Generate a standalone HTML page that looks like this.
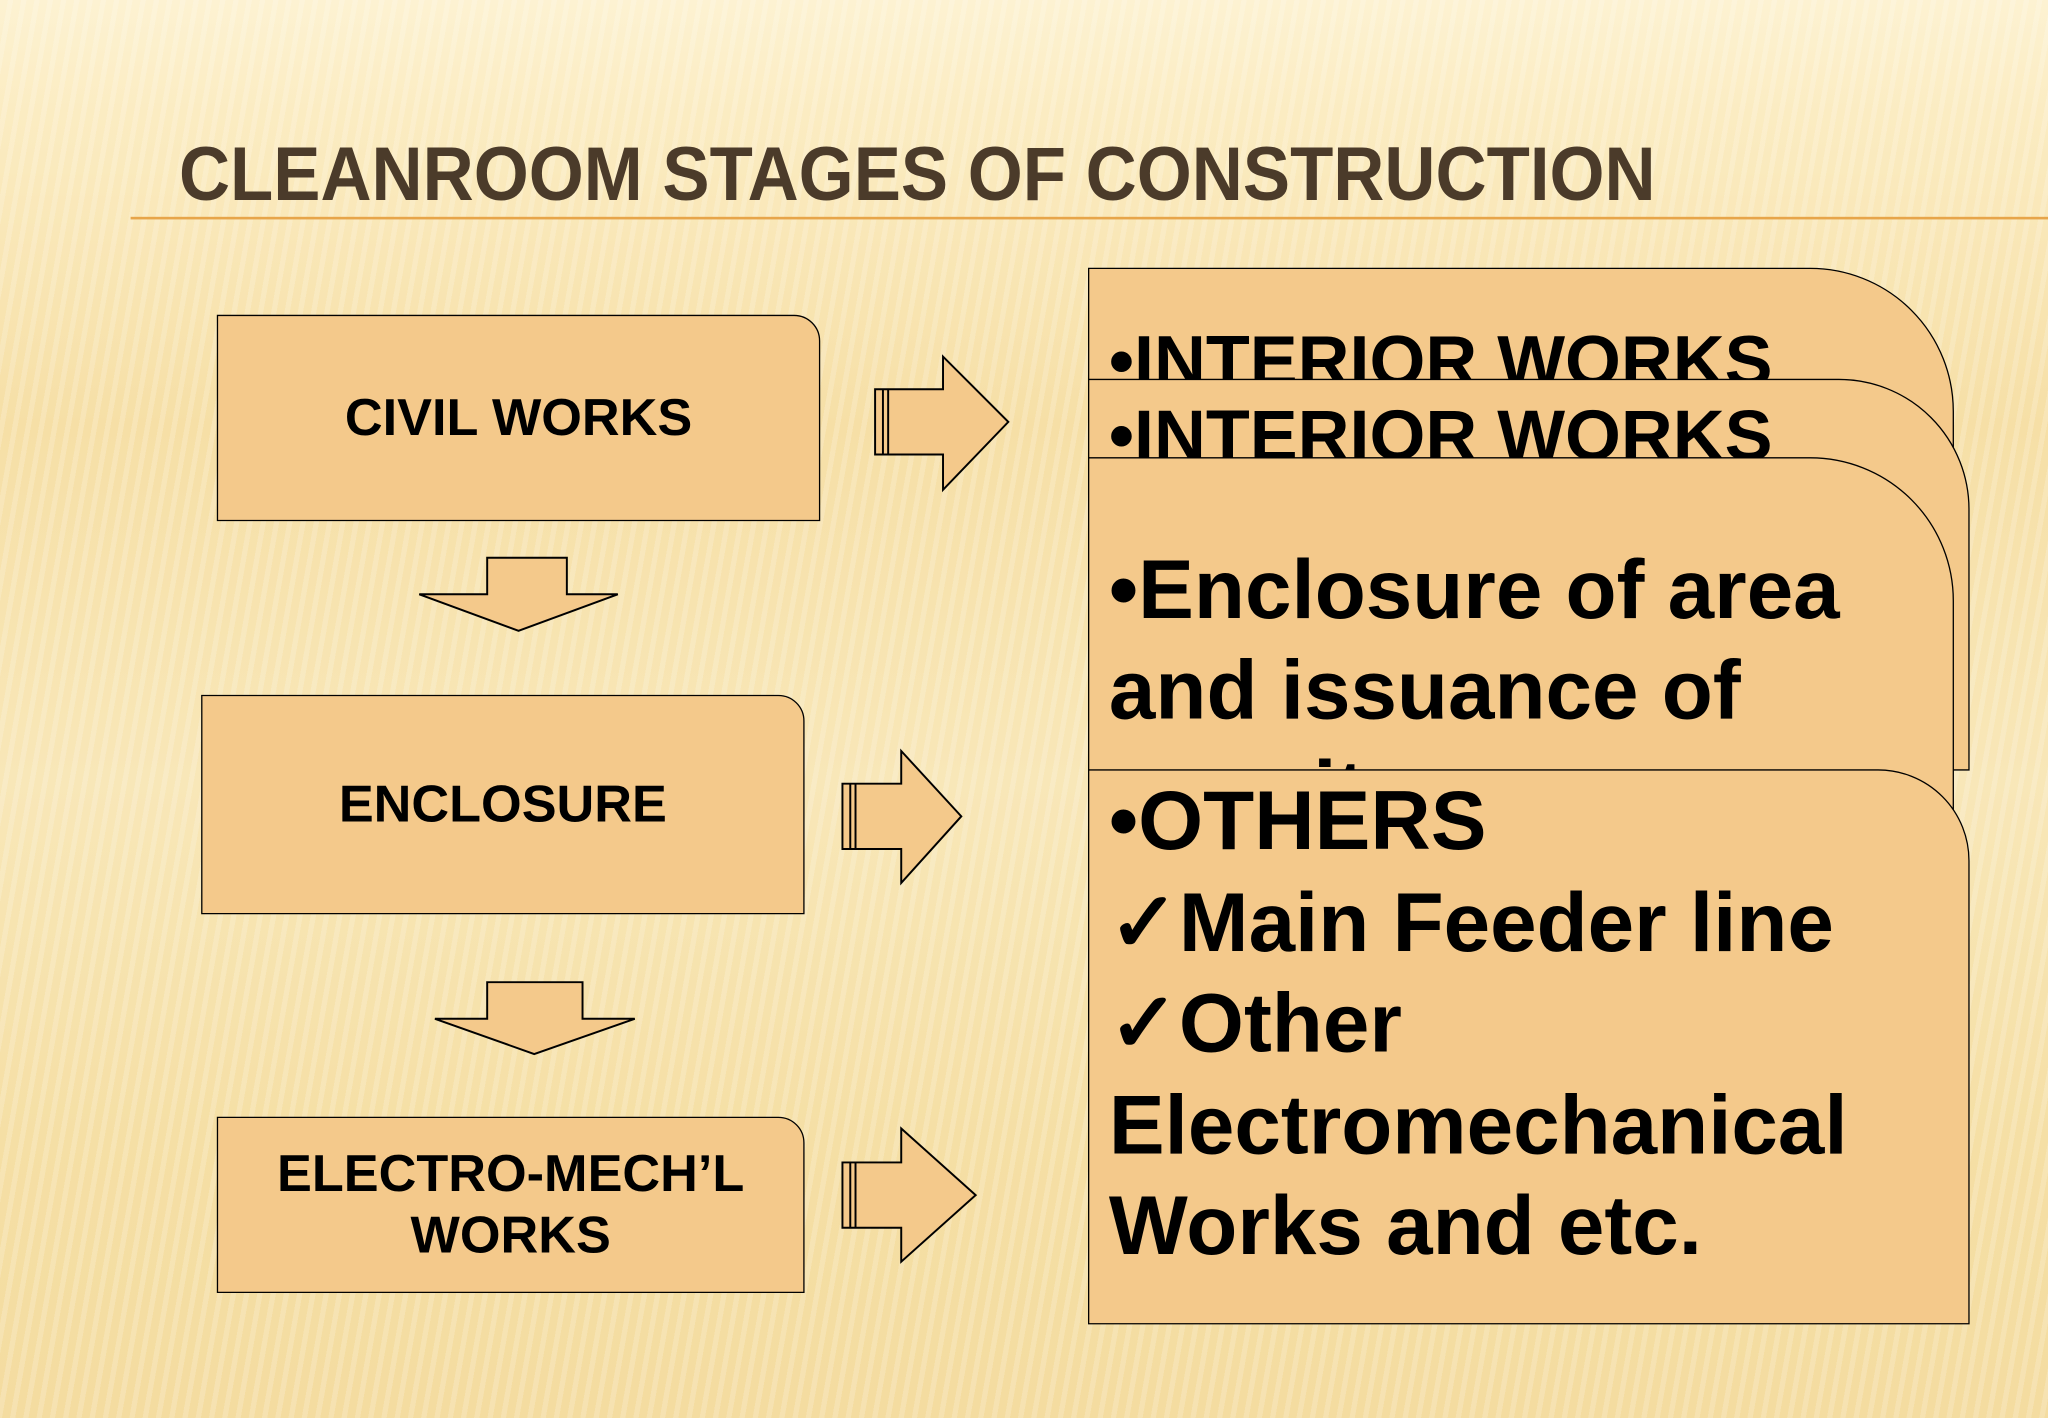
<!DOCTYPE html>
<html><head><meta charset="utf-8"><style>
html,body{margin:0;padding:0;width:2048px;height:1418px;overflow:hidden;}
#s{position:absolute;left:0;top:0;width:1568px;height:1086px;transform:scale(1.30612);transform-origin:0 0;
background:
repeating-linear-gradient(100deg,rgba(255,255,255,0) 0 6px,rgba(255,255,255,0.18) 6px 10px),
linear-gradient(180deg,#fdf2d2 0%,#fbecc2 8%,#f6dfa6 30%,#f8e7b8 55%,#f5dfa5 80%,#f4dca0 100%);
font-family:"Liberation Sans",sans-serif;}
.t{position:absolute;left:137px;top:100px;font-size:58px;color:#4b3b2a;transform:scaleX(0.934);transform-origin:0 0;white-space:nowrap;font-weight:bold;}
.ln{position:absolute;left:100px;top:166px;width:1468px;height:2px;background:#e7a54a;}
.b{position:absolute;background:#f4c98b;border:1.5px solid #000;box-sizing:border-box;font-weight:bold;color:#000;}
.lb{display:flex;align-items:center;justify-content:center;text-align:center;font-size:40px;line-height:47px;}
.r{overflow:hidden;font-size:64px;line-height:77px;padding-left:15px;}
</style></head><body><div id="s">
<div class="t">CLEANROOM STAGES OF CONSTRUCTION</div>
<div class="ln"></div>
<div class="b lb" style="left:166px;top:241px;width:462px;height:158px;border-top-right-radius:20px">CIVIL WORKS</div>
<div class="b lb" style="left:154px;top:532px;width:462px;height:168px;border-top-right-radius:20px">ENCLOSURE</div>
<div class="b lb" style="left:166px;top:855px;width:450px;height:135px;border-top-right-radius:20px">ELECTRO-MECH’L<br>WORKS</div>
<svg style="position:absolute;left:0;top:0" width="1568" height="1086">
<g fill="#f4c98b" stroke="#000" stroke-width="1.5">
<polygon points="373,427 434,427 434,455 473,455 397,483 321,455 373,455"/>
<polygon points="373,752 446,752 446,780 486,780 409,807 333,780 373,780"/>
<polygon points="670,298 722,298 722,273 772,323 722,375 722,348 670,348"/>
<polygon points="645,600 690,600 690,575 736,625 690,676 690,650 645,650"/>
<polygon points="645,890 690,890 690,864 747,915 690,966 690,940 645,940"/>
</g>
<g stroke="#000" stroke-width="1.5">
<line x1="676" y1="298" x2="676" y2="348"/><line x1="680" y1="298" x2="680" y2="348"/>
<line x1="651" y1="600" x2="651" y2="650"/><line x1="655" y1="600" x2="655" y2="650"/>
<line x1="651" y1="890" x2="651" y2="940"/><line x1="655" y1="890" x2="655" y2="940"/>
</g>
</svg>
<div class="b r" style="left:833px;top:205px;width:663px;height:300px;border-top-right-radius:110px;line-height:60px;padding-top:40px;font-size:55px;white-space:nowrap">•INTERIOR WORKS</div>
<div class="b r" style="left:833px;top:290px;width:675px;height:300px;border-top-right-radius:100px;line-height:60px;padding-top:12px;font-size:55px;white-space:nowrap">•INTERIOR WORKS</div>
<div class="b r" style="left:833px;top:350px;width:663px;height:290px;border-top-right-radius:110px;padding-top:62px">•Enclosure of area and issuance of permits</div>
<div class="b r" style="left:833px;top:589px;width:675px;height:425px;border-top-right-radius:70px;padding-top:-2px;line-height:77.5px">•OTHERS<br>✓Main Feeder line<br>✓Other Electromechanical Works and etc.</div>
</div></body></html>
